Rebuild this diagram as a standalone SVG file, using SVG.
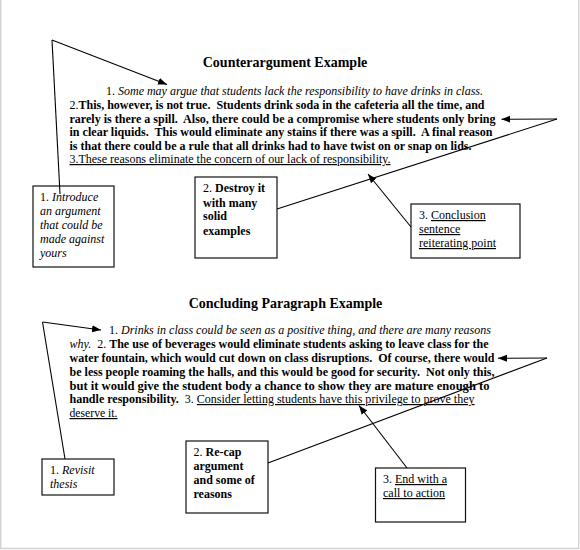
<svg xmlns="http://www.w3.org/2000/svg" width="580" height="550" viewBox="0 0 580 550">
<defs>
<style>
text{font-family:"Liberation Serif","Times New Roman",serif;font-size:12px;fill:#000;white-space:pre}
.title{font-size:14px;font-weight:bold}
.b{font-weight:bold}
.i{font-style:italic}
.u{text-decoration:underline}
.box{fill:#fff;stroke:#111;stroke-width:1.2}
.con{fill:none;stroke:#000;stroke-width:1.1}
</style>
<marker id="ah" markerUnits="userSpaceOnUse" markerWidth="10" markerHeight="8" refX="9" refY="4" orient="auto">
<path d="M0,0.5 L9,4 L0,7.5 Z" fill="#000"/>
</marker>
</defs>
<rect x="0" y="0" width="580" height="550" fill="#fff"/>
<path d="M0.75,0 V548.5 H578.75 V0" fill="none" stroke="#d4d4d4" stroke-width="1.5"/>

<g id="counterargument-text">
<text class="title" x="285" y="67" text-anchor="middle">Counterargument Example</text>
<text x="106" y="95" textLength="377" lengthAdjust="spacingAndGlyphs">1. <tspan class="i">Some may argue that students lack the responsibility to have drinks in class.</tspan></text>
<text x="69.5" y="108.5" textLength="415" lengthAdjust="spacingAndGlyphs">2.<tspan class="b">This, however, is not true.  Students drink soda in the cafeteria all the time, and</tspan></text>
<text class="b" x="69.5" y="122.5" textLength="426" lengthAdjust="spacingAndGlyphs">rarely is there a spill.  Also, there could be a compromise where students only bring</text>
<text class="b" x="69.5" y="136" textLength="423" lengthAdjust="spacingAndGlyphs">in clear liquids.  This would eliminate any stains if there was a spill.  A final reason</text>
<text class="b" x="69.5" y="149.5" textLength="402" lengthAdjust="spacingAndGlyphs">is that there could be a rule that all drinks had to have twist on or snap on lids.</text>
<text class="u" x="69.5" y="163" textLength="321" lengthAdjust="spacingAndGlyphs">3.These reasons eliminate the concern of our lack of responsibility.</text>
</g>

<g id="node-introduce">
<rect class="box" x="33" y="186" width="81" height="81"/>
<text x="40" y="201">1. <tspan class="i">Introduce</tspan></text>
<text class="i" x="40" y="215">an argument</text>
<text class="i" x="40" y="229">that could be</text>
<text class="i" x="40" y="243">made against</text>
<text class="i" x="40" y="257">yours</text>
</g>

<g id="node-destroy">
<rect class="box" x="195" y="177" width="82" height="81"/>
<text x="203" y="192">2. <tspan class="b">Destroy it</tspan></text>
<text class="b" x="203" y="207">with many</text>
<text class="b" x="203" y="220">solid</text>
<text class="b" x="203" y="235">examples</text>
</g>

<g id="node-conclusion">
<rect class="box" x="411" y="204" width="109" height="54"/>
<text x="419" y="219">3. <tspan class="u">Conclusion</tspan></text>
<text class="u" x="419" y="233">sentence</text>
<text class="u" x="419" y="247">reiterating point</text>
</g>

<g id="concluding-text">
<text class="title" x="285.5" y="308" text-anchor="middle">Concluding Paragraph Example</text>
<text x="109" y="334" textLength="382" lengthAdjust="spacingAndGlyphs">1. <tspan class="i">Drinks in class could be seen as a positive thing, and there are many reasons</tspan></text>
<text x="69.5" y="348" textLength="419" lengthAdjust="spacingAndGlyphs"><tspan class="i">why.</tspan>  2. <tspan class="b">The use of beverages would eliminate students asking to leave class for the</tspan></text>
<text class="b" x="69.5" y="362" textLength="425" lengthAdjust="spacingAndGlyphs">water fountain, which would cut down on class disruptions.  Of course, there would</text>
<text class="b" x="69.5" y="376" textLength="425" lengthAdjust="spacingAndGlyphs">be less people roaming the halls, and this would be good for security.  Not only this,</text>
<text class="b" x="69.5" y="389.5" textLength="420" lengthAdjust="spacingAndGlyphs">but it would give the student body a chance to show they are mature enough to</text>
<text x="69.5" y="403" textLength="405" lengthAdjust="spacingAndGlyphs"><tspan class="b">handle responsibility.</tspan>  3. <tspan class="u">Consider letting students have this privilege to prove they</tspan></text>
<text class="u" x="69.5" y="417" textLength="48" lengthAdjust="spacingAndGlyphs">deserve it.</text>
</g>

<g id="node-revisit">
<rect class="box" x="42" y="459" width="72" height="36"/>
<text x="50" y="474">1. <tspan class="i">Revisit</tspan></text>
<text class="i" x="50" y="488">thesis</text>
</g>

<g id="node-recap">
<rect class="box" x="186" y="441" width="82" height="72"/>
<text x="193.5" y="456">2. <tspan class="b">Re-cap</tspan></text>
<text class="b" x="193.5" y="470">argument</text>
<text class="b" x="193.5" y="484">and some of</text>
<text class="b" x="193.5" y="498">reasons</text>
</g>

<g id="node-call">
<rect class="box" x="375.5" y="468" width="90" height="54"/>
<text x="383" y="483">3. <tspan class="u">End with a</tspan></text>
<text class="u" x="383" y="497">call to action</text>
</g>

<g id="connectors">
<path class="con" d="M52,40 L167,84.5" marker-end="url(#ah)"/>
<path class="con" d="M52,40 L60,194"/>
<path class="con" d="M557,119 L501.5,119.2" marker-end="url(#ah)"/>
<path class="con" d="M557,119 L277,209"/>
<path class="con" d="M411,227 L368,174" marker-end="url(#ah)"/>
<path class="con" d="M42.5,322 L101,330" marker-end="url(#ah)"/>
<path class="con" d="M42.5,322 L65,459"/>
<path class="con" d="M547,358 L498,358.3" marker-end="url(#ah)"/>
<path class="con" d="M547,358 L268,463"/>
<path class="con" d="M407,468 L359,405.5" marker-end="url(#ah)"/>
</g>
</svg>
